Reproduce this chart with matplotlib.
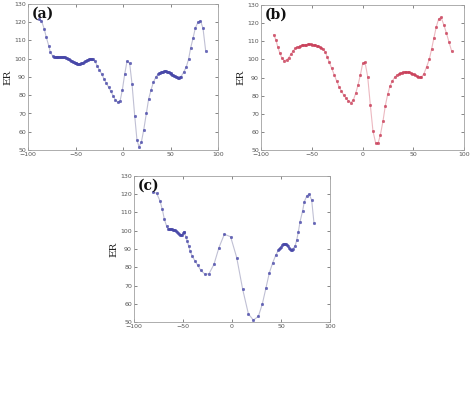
import matplotlib
matplotlib.use("Agg")
import matplotlib.pyplot as plt

# ---------------- data ----------------
a_x = [-88.4, -85.8, -83.0, -80.7, -78.2, -76.5,
       -74, -73, -72, -71, -70, -69, -68, -67, -66, -65, -64, -63, -62, -61,
       -60, -59, -58, -57, -56, -55, -54, -53, -52, -51, -50, -49, -48, -47,
       -46, -45, -44, -43, -42, -41, -40, -39, -38, -37, -36, -35, -34, -33, -32,
       -29.5, -27.2, -25.0, -22.6, -20.0, -17.5, -15.0, -12.8, -10.4, -8.0,
       -5.5, -3.0, -0.7, 1.8, 4.2, 7.0, 9.5, 12.3, 14.7, 16.8, 19.3, 21.8,
       24.6, 27.0, 29.5, 32.0, 34.4, 36.9,
       38, 39, 40, 41, 42, 43, 44, 45, 46, 47, 48, 49, 50, 51, 52, 53, 54, 55,
       56, 57, 58, 59, 60, 61,
       63.9, 66.7, 69.1, 71.2, 73.7, 76.1, 78.9, 81.4, 84.2, 87.0]
a_y = [121.6, 120.8, 116.5, 111.7, 107.2, 103.5,
       101.5, 101.2, 101.0, 100.9, 100.8, 100.8, 100.8, 100.9, 101.0, 101.0,
       101.0, 101.0, 100.9, 100.7, 100.5, 100.2, 99.9, 99.6, 99.2, 98.9, 98.6,
       98.3, 98.0, 97.8, 97.6, 97.4, 97.3, 97.2, 97.2, 97.3, 97.4, 97.6, 97.9,
       98.2, 98.5, 98.8, 99.2, 99.5, 99.8, 100.0, 100.1, 100.1, 99.8,
       98.6, 96.2, 94.0, 91.8, 89.0, 86.5, 84.3, 82.1, 79.8, 77.4,
       76.1, 77.0, 82.9, 91.6, 98.6, 97.5, 86.2, 68.8, 55.5, 51.8, 54.2, 61.0,
       70.1, 78.0, 82.9, 87.1, 89.8, 91.6,
       92.0, 92.3, 92.6, 92.8, 93.0, 93.1, 93.1, 93.1, 93.0, 92.8, 92.6, 92.3,
       92.0, 91.7, 91.3, 91.0, 90.6, 90.3, 90.0, 89.8, 89.7, 89.7, 89.8, 90.2,
       92.6, 95.7, 99.9, 105.9, 111.2, 116.8, 120.0, 120.9, 116.8, 104.4]

b_x = [-87.5, -85.2, -83.6, -81.3, -79.3, -77.0, -74.7, -72.7, -70.4, -68.5,
       -66.2, -64.5, -63.0, -61.5, -60.0, -58.5, -57.0, -55.5, -54.0, -52.5,
       -51.0, -49.5, -48.0, -46.5, -45.0, -43.5, -42.0, -40.5, -39.0,
       -36.9, -34.8, -32.7, -30.4, -27.8, -25.5, -23.2, -20.9, -18.6, -16.3,
       -14.0, -11.3, -9.0, -6.7, -4.4, -2.1, 0.2, 2.5, 5.1, 7.7, 10.3, 13.0,
       15.3, 17.6, 20.2, 22.5, 24.8, 27.1, 29.4, 31.7, 34.0,
       35.5, 37.0, 38.5, 40.0, 41.5, 43.0, 44.5, 46.0, 47.5, 49.0, 50.5, 52.0,
       53.5, 55.0, 56.5, 58.0,
       60.5, 63.2, 65.8, 68.1, 70.4, 72.7, 75.0, 77.3, 80.2, 82.7, 85.3, 87.8]
b_y = [113.5, 110.7, 107.0, 103.3, 100.6, 99.3, 99.7, 101.0, 102.8, 104.6,
       106.1, 106.6, 107.0, 107.4, 107.7, 107.9, 108.1, 108.2, 108.3, 108.3,
       108.3, 108.2, 108.1, 107.9, 107.6, 107.3, 106.9, 106.4, 105.8,
       104.3, 101.5, 98.4, 95.1, 91.4, 88.1, 85.0, 82.6, 80.4, 78.6,
       77.1, 76.2, 77.6, 81.3, 85.9, 91.4, 97.8, 98.4, 90.5, 74.9, 60.5, 53.7,
       53.7, 58.3, 66.0, 74.5, 80.7, 85.3, 88.1, 90.1, 91.4,
       91.9, 92.3, 92.7, 93.0, 93.1, 93.2, 93.1, 92.9, 92.6, 92.2, 91.7, 91.2,
       90.7, 90.3, 90.1, 90.3,
       92.0, 96.0, 100.0, 105.7, 112.0, 118.0, 122.3, 123.2, 119.0, 114.4,
       109.4, 104.6]

c_x = [-81.0, -76.9, -73.5, -71.1, -69.0, -66.7,
       -65, -64, -63, -62, -61, -60, -59, -58, -57, -56, -55, -54, -53, -52,
       -51, -50, -49, -48.5,
       -47.0, -45.6, -44.2, -42.7, -40.5, -37.8, -35.0, -32.0, -27.6, -23.5,
       -18.4, -13.3, -7.8, -1.4, 4.8, 10.9, 16.7, 21.8, 26.9, 31.0, 34.7,
       38.1, 41.5, 44.6, 47.3,
       48, 49, 50, 51, 52, 53, 54, 55, 56, 57, 58, 59, 60, 61, 62,
       64.3, 66.0, 67.7, 69.4, 72.1, 73.8, 76.2, 78.6, 81.3, 83.7]
c_y = [121.4, 120.5, 116.4, 111.7, 106.2, 102.5,
       100.8, 100.7, 100.7, 100.7, 100.7, 100.6, 100.5, 100.3, 100.0, 99.5,
       99.0, 98.4, 97.9, 97.6, 97.8, 98.5, 99.2, 99.3,
       96.7, 94.3, 91.5, 88.8, 86.0, 83.5, 81.1, 78.4, 76.2, 76.4,
       81.6, 90.8, 98.1, 96.7, 85.3, 67.9, 54.5, 51.0, 53.1, 60.0, 68.8,
       76.9, 82.4, 86.6, 89.3,
       89.8, 90.5, 91.3, 92.0, 92.5, 92.8, 92.9, 92.7, 92.2, 91.5, 90.6, 89.9,
       89.5, 89.6, 90.1,
       91.5, 94.8, 99.4, 104.9, 111.0, 115.9, 119.0, 120.1, 116.8, 104.0]

x_ticks = [-100, -50, 0, 50, 100]
y_ticks = [50, 60, 70, 80, 90, 100, 110, 120, 130]
panel_labels = ["(a)", "(b)", "(c)"]

# ---------------- figure ----------------
W, H = 474, 395
fig = plt.figure(figsize=(W / 100, H / 100), dpi=100)
fig.patch.set_facecolor("white")


def box(x0, y0, x1, y1):
    return [x0 / W, 1 - y1 / H, (x1 - x0) / W, (y1 - y0) / H]


panels = [
    (box(28, 4, 218, 150), a_x, a_y, "#4646a8", "#c0c0d4", panel_labels[0]),
    (box(261, 5, 464, 150), b_x, b_y, "#c83a55", "#ecb8c0", panel_labels[1]),
    (box(134, 176, 330, 322), c_x, c_y, "#4646a8", "#c0c0d4", panel_labels[2]),
]

for rect, xs, ys, mcol, lcol, lab in panels:
    ax = fig.add_axes(rect)
    ax.plot(xs, ys, color=lcol, lw=0.8, zorder=1)
    ax.plot(xs, ys, ls="none", marker="o", ms=1.9, mfc=mcol, mec=mcol,
            mew=0.3, alpha=0.8, zorder=2)
    ax.set_xlim(-100, 100)
    ax.set_ylim(50, 130)
    ax.set_xticks(x_ticks)
    ax.set_yticks(y_ticks)
    ax.tick_params(direction="in", length=2, width=0.5, labelsize=4.5,
                   colors="#555555", pad=1.5, top=True, right=True)
    for s in ax.spines.values():
        s.set_color("#a0a0a0")
        s.set_linewidth(0.6)
    ax.set_ylabel("ER", family="DejaVu Serif", fontsize=7.5, labelpad=1,
                  color="#222222")
    ax.text(0.02, 0.985, lab, transform=ax.transAxes, ha="left", va="top",
            family="DejaVu Serif", fontweight="bold", fontsize=10,
            color="#111111")

fig.savefig("out.png", dpi=100, facecolor="white")
